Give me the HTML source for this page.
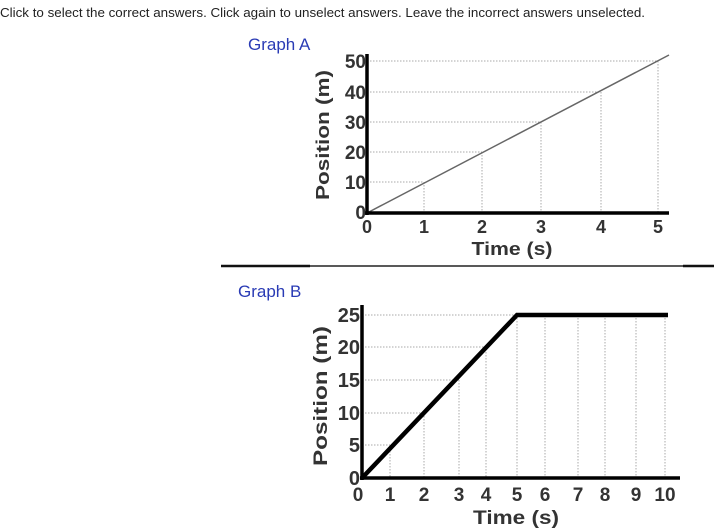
<!DOCTYPE html>
<html><head><meta charset="utf-8"><style>
html,body{margin:0;padding:0;background:#fff;width:714px;height:532px;overflow:hidden}
svg{display:block}
</style></head><body>
<svg width="714" height="532" viewBox="0 0 714 532" xmlns="http://www.w3.org/2000/svg" font-family="Liberation Sans, sans-serif">
<text x="0" y="17" font-size="13" fill="#222" textLength="645" lengthAdjust="spacingAndGlyphs">Click to select the correct answers. Click again to unselect answers. Leave the incorrect answers unselected.</text>
<text x="248" y="50" font-size="17" fill="#2a3bb5">Graph A</text>
<text x="238" y="297" font-size="17" fill="#2a3bb5">Graph B</text>
<line x1="221" y1="266" x2="714" y2="266" stroke="#222" stroke-width="1.5"/>
<line x1="221" y1="266" x2="310" y2="266" stroke="#111" stroke-width="2.5"/>
<line x1="683" y1="266" x2="714" y2="266" stroke="#111" stroke-width="2.5"/>

<!-- Graph A -->
<g stroke="#aaa" stroke-width="1" stroke-dasharray="1.5,1.5" fill="none">
<line x1="367" y1="61" x2="658" y2="61"/>
<line x1="367" y1="92" x2="601" y2="92"/>
<line x1="367" y1="122" x2="541" y2="122"/>
<line x1="367" y1="152" x2="482" y2="152"/>
<line x1="367" y1="182" x2="424" y2="182"/>
<line x1="424" y1="182" x2="424" y2="213"/>
<line x1="482" y1="152" x2="482" y2="213"/>
<line x1="541" y1="122" x2="541" y2="213"/>
<line x1="601" y1="92" x2="601" y2="213"/>
<line x1="658" y1="61" x2="658" y2="213"/>
</g>
<line x1="367" y1="213" x2="669" y2="55" stroke="#666" stroke-width="1.5"/>
<line x1="367" y1="54" x2="367" y2="215" stroke="#000" stroke-width="3.5"/>
<line x1="365" y1="213" x2="669" y2="213" stroke="#000" stroke-width="3.5"/>
<g font-size="19" font-weight="bold" fill="#333" text-anchor="end">
<text x="366" y="68">50</text><text x="366" y="99">40</text><text x="366" y="129">30</text>
<text x="366" y="159">20</text><text x="366" y="189">10</text><text x="366" y="219">0</text>
</g>
<g font-size="18" font-weight="bold" fill="#333" text-anchor="middle">
<text x="367" y="233">0</text><text x="424" y="233">1</text><text x="482" y="233">2</text>
<text x="541" y="233">3</text><text x="601" y="233">4</text><text x="658" y="233">5</text>
<text x="512" y="255" textLength="81" lengthAdjust="spacingAndGlyphs">Time (s)</text>
<text transform="translate(329,135) rotate(-90)" textLength="130" lengthAdjust="spacingAndGlyphs">Position (m)</text>
</g>

<!-- Graph B -->
<g stroke="#aaa" stroke-width="1" stroke-dasharray="1.5,1.5" fill="none">
<line x1="362" y1="315" x2="517" y2="315"/>
<line x1="362" y1="347" x2="486" y2="347"/>
<line x1="362" y1="380" x2="459" y2="380"/>
<line x1="362" y1="413" x2="424" y2="413"/>
<line x1="362" y1="445" x2="390" y2="445"/>
<line x1="390" y1="445" x2="390" y2="478"/>
<line x1="424" y1="413" x2="424" y2="478"/>
<line x1="459" y1="380" x2="459" y2="478"/>
<line x1="486" y1="352" x2="486" y2="478"/>
<line x1="517" y1="315" x2="517" y2="478"/>
<line x1="545" y1="315" x2="545" y2="478"/>
<line x1="578" y1="315" x2="578" y2="478"/>
<line x1="605" y1="315" x2="605" y2="478"/>
<line x1="636" y1="315" x2="636" y2="478"/>
<line x1="665" y1="315" x2="665" y2="478"/>
</g>
<polyline points="362,478 517,315 668,315" fill="none" stroke="#000" stroke-width="4.5"/>
<line x1="362" y1="305" x2="362" y2="480" stroke="#000" stroke-width="3.5"/>
<line x1="360" y1="478" x2="680" y2="478" stroke="#000" stroke-width="3.5"/>
<g font-size="20" font-weight="bold" fill="#333" text-anchor="end">
<text x="360" y="322">25</text><text x="360" y="354">20</text><text x="360" y="387">15</text>
<text x="360" y="420">10</text><text x="360" y="452">5</text><text x="360" y="485">0</text>
</g>
<g font-size="19" font-weight="bold" fill="#333" text-anchor="middle">
<text x="358" y="501">0</text><text x="390" y="501">1</text><text x="424" y="501">2</text>
<text x="459" y="501">3</text><text x="486" y="501">4</text><text x="517" y="501">5</text>
<text x="545" y="501">6</text><text x="578" y="501">7</text><text x="605" y="501">8</text>
<text x="636" y="501">9</text><text x="665" y="501">10</text>
<text x="516" y="524" textLength="86" lengthAdjust="spacingAndGlyphs">Time (s)</text>
<text transform="translate(327,396) rotate(-90)" textLength="140" lengthAdjust="spacingAndGlyphs">Position (m)</text>
</g>
</svg>
</body></html>
